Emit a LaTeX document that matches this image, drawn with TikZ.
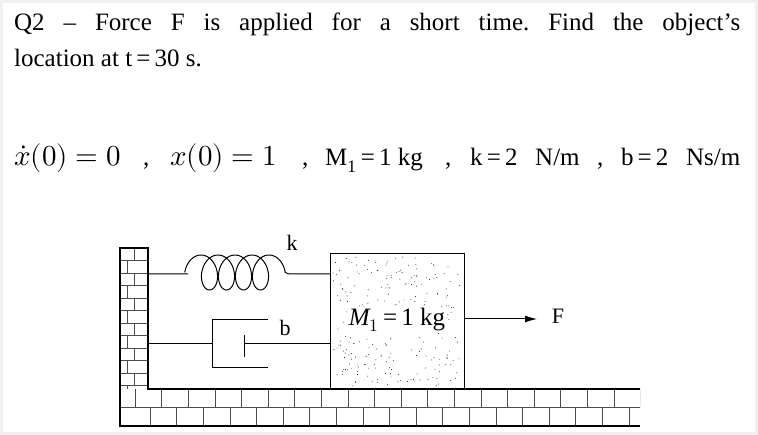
\documentclass[tikz,border=0pt]{standalone}
\usepackage{fontspec}
\setmainfont{Liberation Serif}
\usepackage{amsmath}
\usepackage{unicode-math}
\setmathfont{Latin Modern Math}
\usetikzlibrary{arrows.meta}
\begin{document}
\begin{tikzpicture}[x=1pt,y=-1pt,
  line/.style={line width=1.3pt},
  thin/.style={line width=0.5pt,draw=black!70},
  txt/.style={inner sep=0pt,anchor=base west,font=\fontsize{25}{30}\selectfont},
  mth/.style={inner sep=0pt,anchor=base west,font=\fontsize{29}{30}\selectfont}]
\useasboundingbox (0,0) rectangle (758,435);
\fill[white] (0,0) rectangle (758,435);
\draw[black!6,line width=3pt] (1.5,1.5) rectangle (756.5,433.5);
% text
\node[txt] (q1) at (14,31) {\hbox to 726pt{Q2\hfill–\hfill Force\hfill F\hfill is\hfill applied\hfill for\hfill a\hfill short\hfill time.\hfill Find\hfill the\hfill object’s}};
\node[txt] (q2) at (14,67) {location at t\,=\,30 s.};
\node[mth] (c1) at (14,166) {$\dot{x}(0) = 0$};
\node[txt] (c2) at (143,166) {,};
\node[mth] (c3) at (170,166) {$x(0) = 1$};
\node[txt] (c4) at (302,166) {,};
\node[txt] (c5) at (325,166) {M\textsubscript{1}\,=\,1 kg};
\node[txt] (c6) at (445,166) {,};
\node[txt] (c7) at (470,166) {\hbox to 270pt{k\,=\,2\hfill N/m\hfill,\hfill b\,=\,2\hfill Ns/m}};
% wall bricks
\begin{scope}
\clip (120,248) rectangle (148,389);
\foreach \i in {0,...,11}{
  \pgfmathsetmacro\yy{248+\i*12.5}
  \draw[thin] (120,\yy) -- (148,\yy);
  \pgfmathsetmacro\xx{mod(\i,2)==0?134:127}
  \draw[thin] (\xx,\yy) -- (\xx,\yy+12.5);
}
\end{scope}
\begin{scope}
\clip (120,389) rectangle (640,426);
\draw[thin] (120,407.5) -- (640,407.5);
\foreach \i in {0,...,20}{
  \draw[thin] (135+\i*26.6,389) -- (135+\i*26.6,407.5);
  \draw[thin] (150+\i*26.6,407.5) -- (150+\i*26.6,426);
}
\end{scope}
\draw[line] (640,389) -- (148,389) -- (148,248) -- (120,248) -- (120,426) -- (640,426);
% block
\node[draw,line width=1.3pt,minimum width=134pt,minimum height=136pt,inner sep=0pt,anchor=north west] (m) at (330,253) {};
\begin{scope}
\pgfmathsetseed{7}
\foreach \i in {1,...,260}{
  \pgfmathsetmacro\px{333+128*rnd}
  \pgfmathsetmacro\py{256+130*rnd}
  \fill (\px,\py) circle (0.45pt);
}
\end{scope}
\node[fill=white,inner sep=1pt,font=\fontsize{25}{30}\selectfont] (ml) at (397,320) {$\mathit{M}_1$\,=\,1 kg};
% spring
\coordinate (s1) at (188,274);
\coordinate (s2) at (289,274);
\draw[line width=1pt] (148,274) -- (s1)
  plot[domain=-90:1530,samples=200,smooth,variable=\t] ({201+\t/360*17+12*sin(\t)},{272.5-17.5*cos(\t)})
  -- (s2) -- (330,274);
\node[font=\fontsize{22}{24}\selectfont] (k) at (292,243) {k};
% damper
\draw[line width=1pt] (148,344) -- (212,344);
\draw[line width=1pt] (268,320) -- (212,320) -- (212,368) -- (268,368);
\draw[line width=1pt] (244,335) -- (244,357);
\draw[line width=1pt] (244,344) -- (330,344);
\node[font=\fontsize{22}{24}\selectfont] (b) at (285,328) {b};
% force
\draw[line width=1pt,-{Latex[length=12pt,width=7pt]}] (464,319) -- (537,319);
\node[font=\fontsize{22}{24}\selectfont] (F) at (558,316) {F};
\end{tikzpicture}
\end{document}
